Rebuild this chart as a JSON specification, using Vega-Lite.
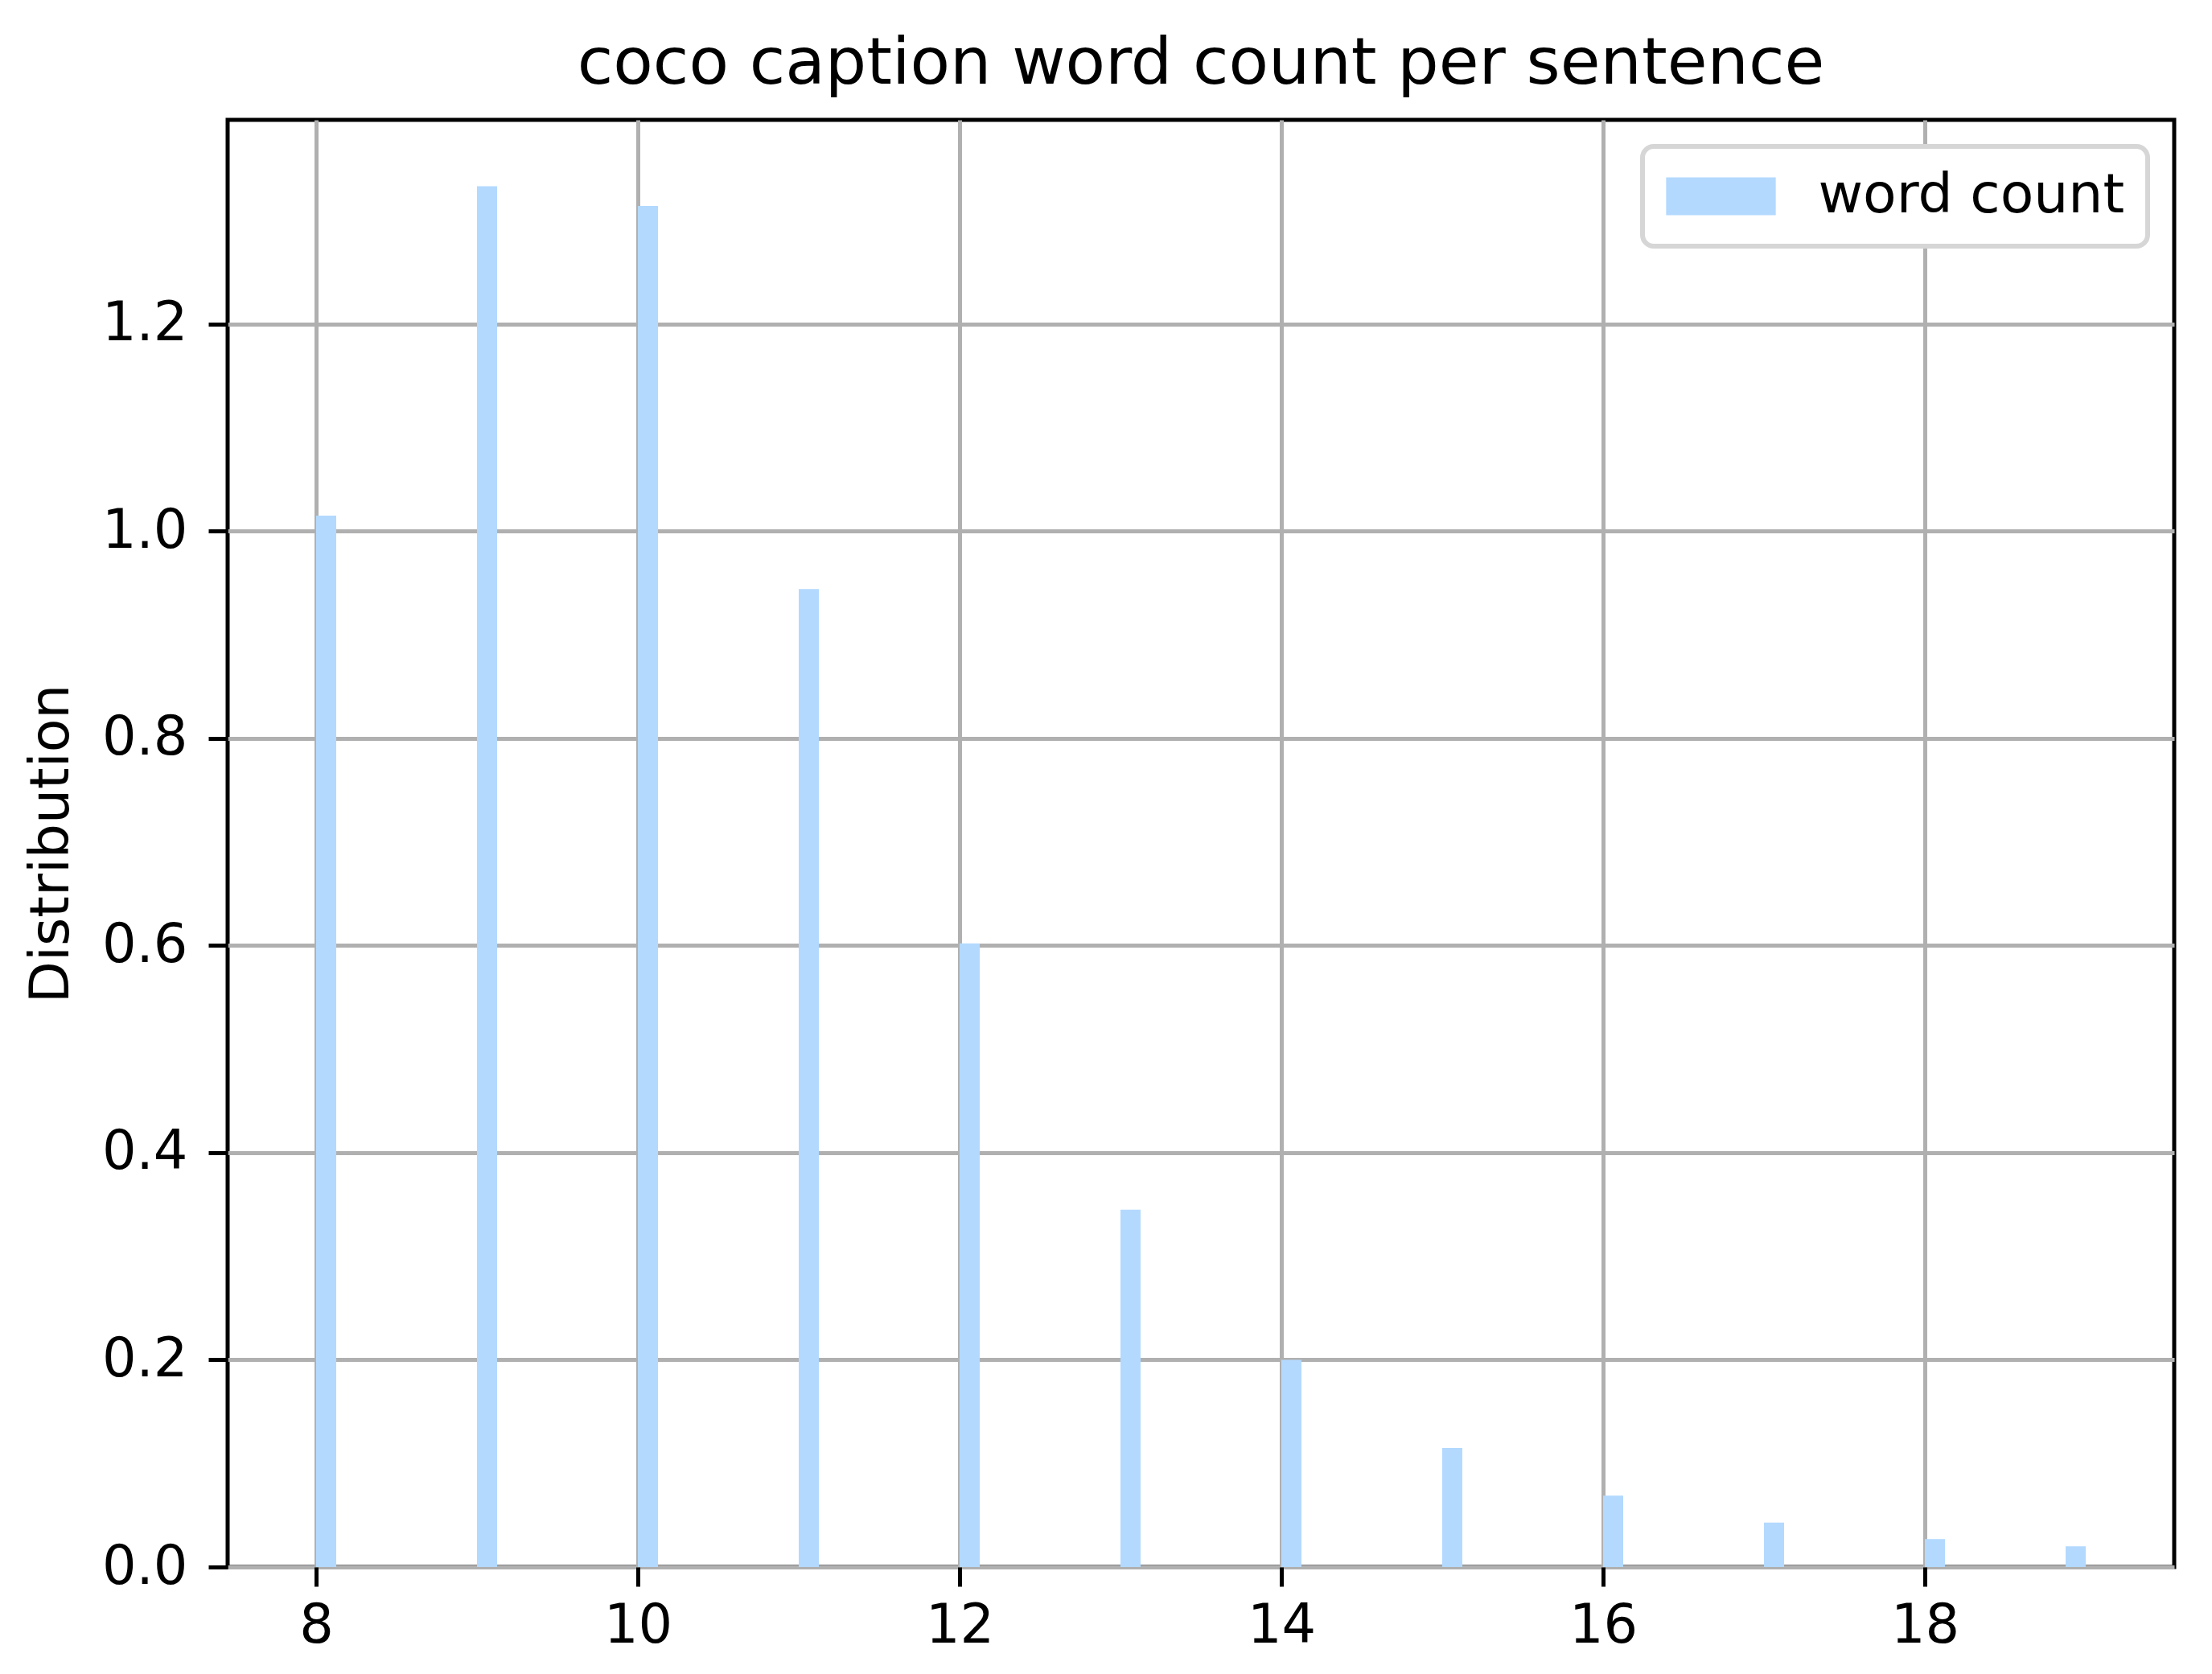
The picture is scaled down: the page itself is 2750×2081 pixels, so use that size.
{
  "$schema": "https://vega.github.io/schema/vega-lite/v6.json",
  "description": "coco caption word count histogram (density)",
  "width": 2420,
  "height": 1799,
  "autosize": "none",
  "padding": {"left": 283, "top": 149, "right": 47, "bottom": 133},
  "background": "white",
  "title": {
    "text": "coco caption word count per sentence",
    "fontSize": 81,
    "fontWeight": "normal",
    "color": "black",
    "anchor": "middle",
    "baseline": "bottom",
    "offset": 28,
    "dy": 81
  },
  "data": {
    "values": [
      {"bin_start": 8, "bin_end": 8.125, "density": 1.015, "series": "word count"},
      {"bin_start": 9, "bin_end": 9.125, "density": 1.333, "series": "word count"},
      {"bin_start": 10, "bin_end": 10.125, "density": 1.314, "series": "word count"},
      {"bin_start": 11, "bin_end": 11.125, "density": 0.944, "series": "word count"},
      {"bin_start": 12, "bin_end": 12.125, "density": 0.602, "series": "word count"},
      {"bin_start": 13, "bin_end": 13.125, "density": 0.345, "series": "word count"},
      {"bin_start": 14, "bin_end": 14.125, "density": 0.2, "series": "word count"},
      {"bin_start": 15, "bin_end": 15.125, "density": 0.115, "series": "word count"},
      {"bin_start": 16, "bin_end": 16.125, "density": 0.069, "series": "word count"},
      {"bin_start": 17, "bin_end": 17.125, "density": 0.043, "series": "word count"},
      {"bin_start": 18, "bin_end": 18.125, "density": 0.027, "series": "word count"},
      {"bin_start": 18.875, "bin_end": 19, "density": 0.02, "series": "word count"}
    ]
  },
  "mark": {"type": "bar", "cornerRadius": 0},
  "encoding": {
    "x": {
      "field": "bin_start",
      "type": "quantitative",
      "title": null,
      "scale": {"domain": [7.45, 19.55], "nice": false, "zero": false},
      "axis": {"values": [8, 10, 12, 14, 16, 18], "format": "d", "labelPadding": 16}
    },
    "x2": {"field": "bin_end"},
    "y": {
      "field": "density",
      "type": "quantitative",
      "title": "Distribution",
      "scale": {"domain": [0, 1.397], "nice": false},
      "axis": {"values": [0, 0.2, 0.4, 0.6, 0.8, 1.0, 1.2], "format": ".1f", "labelPadding": 26, "titlePadding": 28}
    },
    "y2": {"datum": 0},
    "color": {
      "field": "series",
      "type": "nominal",
      "scale": {"range": ["#b3d9ff"]},
      "legend": {
        "title": null,
        "orient": "top-right",
        "offset": 33,
        "padding": 28,
        "fillColor": "white",
        "strokeColor": "#d6d6d6",
        "cornerRadius": 14,
        "symbolType": "M-2.9,-1H2.9V1H-2.9Z",
        "symbolSize": 2209,
        "symbolStrokeWidth": 0,
        "symbolOpacity": 1,
        "symbolOffset": 35.5,
        "labelOffset": 87,
        "labelFontSize": 68,
        "labelColor": "black",
        "labelLimit": 0
      }
    }
  },
  "config": {
    "font": "DejaVu Sans",
    "view": {"stroke": "black", "strokeWidth": 5},
    "legend": {"strokeWidth": 6},
    "axis": {
      "zindex": 1,
      "domain": false,
      "grid": true,
      "gridColor": "#b0b0b0",
      "gridWidth": 5,
      "gridOpacity": 1,
      "ticks": true,
      "tickColor": "black",
      "tickWidth": 5,
      "tickSize": 24,
      "labelFontSize": 67,
      "labelColor": "black",
      "titleFontSize": 68,
      "titleFontWeight": "normal",
      "titleColor": "black"
    }
  }
}
